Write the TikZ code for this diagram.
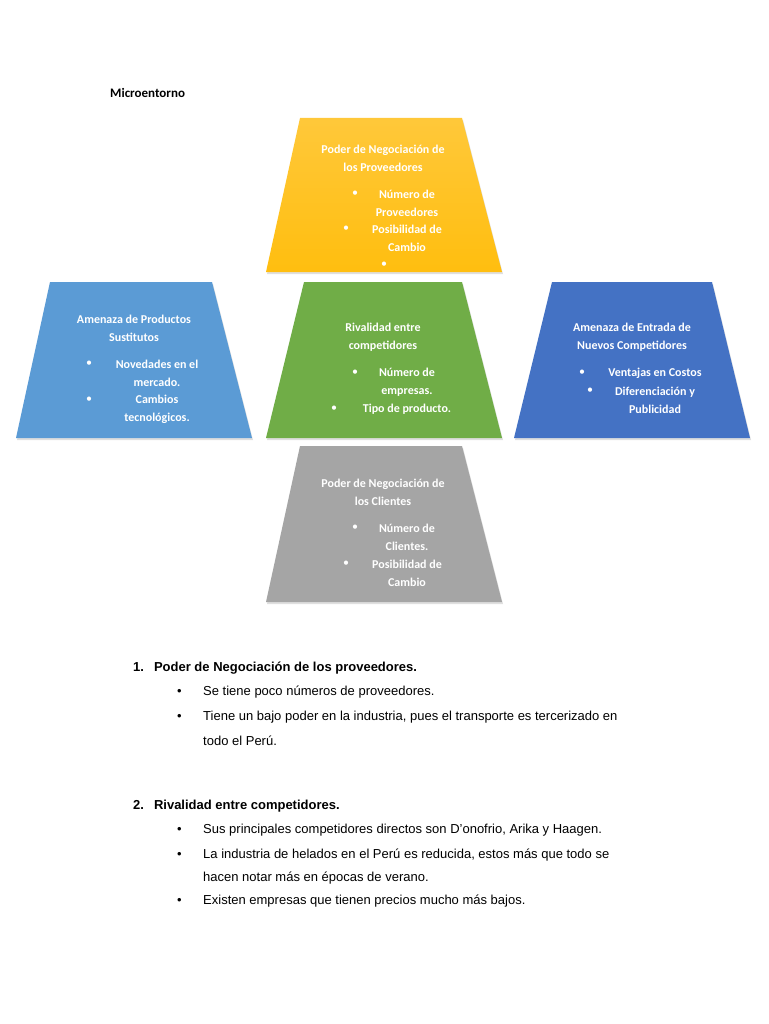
\documentclass[tikz,border=0pt]{standalone}
\usepackage{fontspec}
\setmainfont{Carlito}
\newfontfamily\arial{Liberation Sans}
\usetikzlibrary{shadows}
\definecolor{cgold}{HTML}{FFBE0F}
\definecolor{cgoldt}{HTML}{FFC83A}
\definecolor{cblue}{HTML}{5B9BD5}
\definecolor{cgreen}{HTML}{70AD47}
\definecolor{cdblue}{HTML}{4472C4}
\definecolor{cgray}{HTML}{A5A5A5}
\tikzset{
 trap/.style={drop shadow={opacity=0.25,shadow xshift=1pt,shadow yshift=-2pt}},
 tx/.style={text=white,font=\fontsize{12}{18}\selectfont\bfseries,align=center,inner sep=0},
 bl/.style={text=white,font=\fontsize{12}{18}\selectfont,inner sep=0},
 body/.style={font=\arial\fontsize{13}{16}\selectfont,anchor=west,inner sep=0},
 hd/.style={font=\arial\fontsize{13}{16}\selectfont\bfseries,anchor=west,inner sep=0}
}
\newcommand{\trapz}[6]{% x1top x2top ytop x1bot x2bot ybot
}
\begin{document}
\begin{tikzpicture}[x=1pt,y=-1pt]
\useasboundingbox (0,0) rectangle (768,1024);
\fill[white] (0,0) rectangle (768,1024);
\node[font=\fontsize{13}{16}\selectfont\bfseries,anchor=west,inner sep=0] (title) at (110,93) {Microentorno};
% trapezoids
\path[trap,top color=cgoldt,bottom color=cgold,shading angle=0] (300,118)--(462,118)--(502,272)--(266,272)--cycle;
\path[trap,fill=cblue] (50,282)--(212,282)--(252,438)--(16,438)--cycle;
\path[trap,fill=cgreen] (304,282)--(462,282)--(502,438)--(266,438)--cycle;
\path[trap,fill=cdblue] (552,282)--(712,282)--(750,438)--(514,438)--cycle;
\path[trap,fill=cgray] (300,446)--(462,446)--(502,602)--(266,602)--cycle;
% top
\node[tx] (t1) at (383,158) {Poder de Negociación de\\los Proveedores};
\node[bl] (tb1) at (355,194) {•};
\node[tx] (tt1) at (407,203) {Número de\\Proveedores};
\node[bl] (tb2) at (346,229) {•};
\node[tx] (tt2) at (407,238) {Posibilidad de\\Cambio};
\node[bl] (tb3) at (384,265) {•};
% left
\node[tx] (l1) at (134,328) {Amenaza de Productos\\Sustitutos};
\node[bl] (lb1) at (89,364) {•};
\node[tx] (lt1) at (157,373) {Novedades en el\\mercado.};
\node[bl] (lb2) at (89,400) {•};
\node[tx] (lt2) at (157,409) {Cambios\\tecnológicos.};
% center
\node[tx] (c1) at (383,337) {Rivalidad entre\\competidores};
\node[bl] (cb1) at (355,373) {•};
\node[tx] (ct1) at (407,382) {Número de\\empresas.};
\node[bl] (cb2) at (334,409) {•};
\node[tx] (ct2) at (407,409) {Tipo de producto.};
% right
\node[tx] (r1) at (632,337) {Amenaza de Entrada de\\Nuevos Competidores};
\node[bl] (rb1) at (582,373) {•};
\node[tx] (rt1) at (655,373) {Ventajas en Costos};
\node[bl] (rb2) at (590,391) {•};
\node[tx] (rt2) at (655,400) {Diferenciación y\\Publicidad};
% bottom
\node[tx] (b1) at (383,492) {Poder de Negociación de\\los Clientes};
\node[bl] (bb1) at (355,528) {•};
\node[tx] (bt1) at (407,537) {Número de\\Clientes.};
\node[bl] (bb2) at (346,564) {•};
\node[tx] (bt2) at (407,573) {Posibilidad de\\Cambio};
% text
\node[hd] (h1) at (133,668) {1.\hspace{10pt}Poder de Negociación de los proveedores.};
\node[body] (p1) at (177,692) {•}; \node[body] at (203,692) {Se tiene poco números de proveedores.};
\node[body] (p2) at (177,717) {•}; \node[body] at (203,717) {Tiene un bajo poder en la industria, pues el transporte es tercerizado en};
\node[body] at (203,741) {todo el Perú.};
\node[hd] (h2) at (133,806) {2.\hspace{10pt}Rivalidad entre competidores.};
\node[body] at (177,830) {•}; \node[body] at (203,830) {Sus principales competidores directos son D’onofrio, Arika y Haagen.};
\node[body] at (177,855) {•}; \node[body] at (203,855) {La industria de helados en el Perú es reducida, estos más que todo se};
\node[body] at (203,878) {hacen notar más en épocas de verano.};
\node[body] at (177,901) {•}; \node[body] at (203,901) {Existen empresas que tienen precios mucho más bajos.};
\end{tikzpicture}
\end{document}
